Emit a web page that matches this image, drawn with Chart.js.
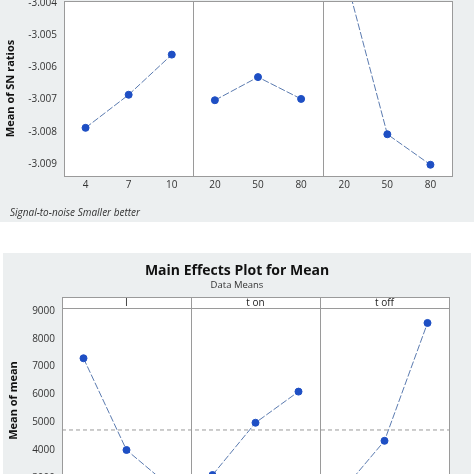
<!DOCTYPE html>
<html><head><meta charset="utf-8">
<script src="https://cdn.jsdelivr.net/npm/chart.js@4/dist/chart.umd.min.js"></script>
<style>
body{margin:0;background:#fff;width:474px;height:474px;overflow:hidden;position:relative;font-family:"Open Sans",sans-serif}
#top{position:absolute;left:0;top:0;width:474px;height:222px;background:#eceff0;overflow:hidden}
#c1{position:absolute;left:0;top:-8px}
#bot{position:absolute;left:3px;top:253px;width:468px;height:221px;background:#eceff0;overflow:hidden}
.foot{position:absolute;left:10px;top:205px;font-size:10px;font-style:italic;color:#333}
.t1{position:absolute;left:0;width:468px;top:7px;text-align:center;font-weight:bold;font-size:14px;color:#111}
.t2{position:absolute;left:0;width:468px;top:25px;text-align:center;font-size:9.5px;color:#333}
</style></head><body>
<div id="top"><canvas id="c1" width="474" height="230"></canvas><div class="foot">Signal-to-noise Smaller better</div></div>
<div id="bot"><canvas id="c2" width="468" height="260"></canvas><div class="t1">Main Effects Plot for Mean</div><div class="t2">Data Means</div></div>
<script>
const levelLabels = ['4', '7', '10', '20', '50', '80', '20', '50', '80'];
const factors = ['I', 't on', 't off'];
const snI = [-3.00788, -3.00685, -3.00560];
const snTon = [-3.00702, -3.00630, -3.00698];
const snToff = [-3.00300, -3.00808, -3.00903];
const snTicks = [-3.004, -3.005, -3.006, -3.007, -3.008, -3.009];
const meanI = [7300, 4000, 2700];
const meanTon = [3100, 4980, 6100];
const meanToff = [2500, 4330, 8570];
const meanTicks = [3000, 4000, 5000, 6000, 7000, 8000, 9000];
const grandMean = 4720;

function panelData(vals, offset) {
    return vals.map((v, i) => ({x: offset + i + 1, y: v}));
}

function dataset(vals, offset) {
    return {
        data: panelData(vals, offset),
        borderColor: '#5b7bb0',
        borderWidth: 1,
        borderDash: [7, 2],
        pointBackgroundColor: '#1e4fc4',
        pointBorderColor: '#1e4fc4',
        pointRadius: 3.5,
        tension: 0
    };
}

const frame = {
    id: 'frame',
    afterDatasetsDraw(chart, args, opts) {
        const {ctx, chartArea: a, scales: {x, y}} = chart;
        ctx.save();
        ctx.strokeStyle = '#9a9a9a';
        ctx.lineWidth = 1;
        if (opts.mean !== undefined) {
            ctx.setLineDash([4, 3]);
            ctx.beginPath();
            const my = y.getPixelForValue(opts.mean);
            ctx.moveTo(a.left, my); ctx.lineTo(a.right, my); ctx.stroke();
            ctx.setLineDash([]);
        }
        const top = opts.header ? a.top - 11 : a.top;
        ctx.strokeRect(a.left + 0.5, top + 0.5, a.right - a.left, a.bottom - top);
        [3.5, 6.5].forEach(v => {
            const px = Math.round(x.getPixelForValue(v)) + 0.5;
            ctx.beginPath(); ctx.moveTo(px, top); ctx.lineTo(px, a.bottom); ctx.stroke();
        });
        if (opts.header) {
            ctx.beginPath(); ctx.moveTo(a.left, a.top + 0.5); ctx.lineTo(a.right, a.top + 0.5); ctx.stroke();
            ctx.fillStyle = '#222';
            ctx.font = '10px "Open Sans"';
            ctx.textAlign = 'center';
            ctx.textBaseline = 'middle';
            factors.forEach((f, i) => ctx.fillText(f, x.getPixelForValue(2 + 3 * i), a.top - 5));
        }
        ctx.restore();
    },
    beforeDraw(chart, args, opts) {
        const {ctx, chartArea: a} = chart;
        ctx.save();
        ctx.fillStyle = '#fff';
        const top = opts.header ? a.top - 11 : a.top;
        ctx.fillRect(a.left, top, a.right - a.left, a.bottom - top);
        ctx.restore();
    }
};

function makeChart(id, sets, yMin, yMax, ticks, title, fmt, pad, opts) {
    return new Chart(document.getElementById(id), {
        type: 'line',
        data: {datasets: sets},
        plugins: [frame],
        options: {
            responsive: false,
            animation: false,
            layout: {padding: pad},
            plugins: {legend: {display: false}, tooltip: {enabled: false}, frame: opts},
            scales: {
                x: {
                    type: 'linear', min: 0.5, max: 9.5,
                    afterBuildTicks: s => { s.ticks = levelLabels.map((l, i) => ({value: i + 1})); },
                    ticks: {callback: (v, i) => levelLabels[i], color: '#333', font: {size: 10, family: 'Open Sans'}, autoSkip: false, maxRotation: 0, padding: 3},
                    grid: {display: false, drawTicks: false},
                    border: {display: false},
                    afterFit: s => { s.height = 20; }
                },
                y: {
                    min: yMin, max: yMax,
                    afterBuildTicks: s => { s.ticks = ticks.map(v => ({value: v})); },
                    ticks: {callback: fmt, color: '#333', font: {size: 10, family: 'Open Sans'}},
                    grid: {display: false, drawTicks: true, tickLength: 4, tickColor: '#888'},
                    border: {display: false},
                    title: {display: true, text: title, color: '#111', font: {size: 11, weight: 'bold', family: 'Open Sans'}},
                    afterFit: s => { s.width = opts.yw; }
                }
            }
        }
    });
}

makeChart('c1', [dataset(snI, 0), dataset(snTon, 3), dataset(snToff, 6)],
    -3.00938, -3.00393, snTicks, 'Mean of SN ratios', v => v.toFixed(3),
    {left: 0, right: 22, top: 0, bottom: 26}, {yw: 64, header: false});

makeChart('c2', [dataset(meanI, 0), dataset(meanTon, 3), dataset(meanToff, 6)],
    2453, 9108, meanTicks, 'Mean of mean', v => String(v),
    {left: 0, right: 22, top: 55, bottom: 0}, {yw: 59, header: true, mean: grandMean});
</script>
</body></html>
